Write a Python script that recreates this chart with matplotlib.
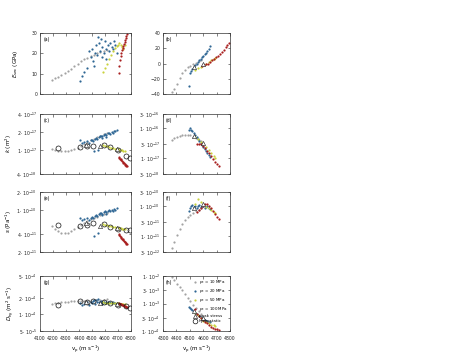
import matplotlib
matplotlib.use("Agg")
import matplotlib.pyplot as plt
from matplotlib.ticker import FixedLocator, NullLocator
from matplotlib.lines import Line2D

plt.rcParams['font.family'] = ['DejaVu Sans']
plt.rcParams['mathtext.fontset'] = 'dejavusans'

# ---------------- data: left column (x = vp, 4100-4800) ----------------
gray_xL = [4190, 4215, 4240, 4265, 4290, 4315, 4340, 4365, 4390, 4415, 4440, 4465, 4490, 4515, 4540, 4565, 4590, 4615]
blue_xL = [4410, 4420, 4440, 4460, 4475, 4490, 4500, 4510, 4520, 4530, 4540, 4550, 4560, 4570, 4580,
           4590, 4600, 4610, 4620, 4630, 4640, 4650, 4660, 4670, 4680, 4690, 4515, 4545, 4575, 4605]
yell_xL = [4585, 4600, 4615, 4630, 4645, 4660, 4675, 4690, 4700, 4710, 4720, 4730, 4740, 4750]
red_xL = [4705, 4710, 4715, 4720, 4725, 4730, 4735, 4740, 4745, 4750, 4755, 4760, 4765, 4770]
hydro_xL = [4240, 4410, 4460, 4510, 4590, 4640, 4700, 4760, 4790]
peak_xL = [4450, 4560, 4690]

# (a) E_sec
a_gray = [7.0, 7.8, 8.6, 9.5, 10.5, 11.5, 12.5, 13.6, 14.8, 16.0, 17.0, 17.8, 18.5, 19.2, 20.0, 20.5, 21.0, 21.5]
a_blue = [6.5, 9.0, 11.0, 13.0, 21.0, 18.0, 22.0, 16.0, 20.0, 24.0, 19.0, 25.0, 21.0, 27.0, 23.0,
          20.0, 26.0, 22.0, 24.0, 21.0, 25.0, 23.0, 22.0, 26.0, 24.0, 20.0, 14.0, 28.0, 18.0, 17.0]
a_yell = [11.0, 13.0, 15.0, 17.0, 19.0, 21.0, 22.5, 23.5, 24.0, 25.0, 24.0, 23.0, 22.0, 24.0]
a_red = [10.5, 14.0, 16.5, 18.5, 20.0, 21.5, 22.5, 23.5, 24.5, 25.5, 26.5, 27.5, 28.5, 29.5]

# (c) k
c_gray = [1.03e-17, 1.0e-17, 9.8e-18, 9.6e-18, 9.5e-18, 9.7e-18, 1.0e-17, 1.05e-17, 1.1e-17, 1.17e-17,
          1.25e-17, 1.35e-17, 1.45e-17, 1.55e-17, 1.65e-17, 1.75e-17, 1.85e-17, 1.95e-17]
c_blue = [1.45e-17, 1.3e-17, 1.35e-17, 1.4e-17, 1.3e-17, 1.45e-17, 1.5e-17, 1.4e-17, 1.55e-17, 1.6e-17,
          1.55e-17, 1.65e-17, 1.7e-17, 1.75e-17, 1.7e-17, 1.8e-17, 1.85e-17, 1.8e-17, 1.9e-17, 1.95e-17,
          1.85e-17, 2.0e-17, 1.95e-17, 2.1e-17, 2.05e-17, 2.2e-17, 9.5e-18, 1.0e-17, 1.6e-17, 1.65e-17]
c_yell = [1.2e-17, 1.18e-17, 1.15e-17, 1.12e-17, 1.1e-17, 1.08e-17, 1.06e-17, 1.04e-17, 1.03e-17,
          1.02e-17, 1.0e-17, 9.9e-18, 9.8e-18, 9.7e-18]
c_red = [7.8e-18, 7.5e-18, 7.2e-18, 7.0e-18, 6.8e-18, 6.6e-18, 6.4e-18, 6.2e-18, 6.0e-18, 5.9e-18,
         5.7e-18, 5.6e-18, 5.5e-18, 5.4e-18]
c_hydro = [1.1e-17, 1.12e-17, 1.18e-17, 1.17e-17, 1.2e-17, 1.12e-17, 1.0e-17, 8.0e-18, 7.5e-18]
c_peak = [1.2e-17, 1.15e-17, 1.05e-17]

# (e) s
e_gray = [5.4e-11, 4.8e-11, 4.4e-11, 4.2e-11, 4.1e-11, 4.2e-11, 4.5e-11, 4.9e-11, 5.3e-11, 5.7e-11,
          6.1e-11, 6.5e-11, 7.0e-11, 7.4e-11, 7.8e-11, 8.2e-11, 8.6e-11, 9.0e-11]
e_blue = [7.5e-11, 6.8e-11, 7.0e-11, 7.3e-11, 6.9e-11, 7.5e-11, 7.8e-11, 7.4e-11, 8.0e-11, 8.3e-11,
          8.0e-11, 8.5e-11, 8.8e-11, 9.0e-11, 8.7e-11, 9.2e-11, 9.5e-11, 9.2e-11, 9.7e-11, 1.0e-10,
          9.5e-11, 1.02e-10, 9.8e-11, 1.05e-10, 1.0e-10, 1.08e-10, 3.7e-11, 4.2e-11, 8.2e-11, 8.6e-11]
e_yell = [5.8e-11, 5.7e-11, 5.6e-11, 5.5e-11, 5.4e-11, 5.3e-11, 5.2e-11, 5.1e-11, 5.05e-11,
          5.0e-11, 4.95e-11, 4.9e-11, 4.85e-11, 4.8e-11]
e_red = [4.0e-11, 3.8e-11, 3.7e-11, 3.55e-11, 3.45e-11, 3.35e-11, 3.25e-11, 3.15e-11, 3.05e-11,
         2.98e-11, 2.9e-11, 2.82e-11, 2.75e-11, 2.7e-11]
e_hydro = [5.6e-11, 5.5e-11, 5.6e-11, 6.0e-11, 5.8e-11, 5.2e-11, 4.8e-11, 4.6e-11, 4.7e-11]
e_peak = [6.0e-11, 5.5e-11, 5.0e-11]

# (g) D_hy
g_gray = [1.55e-4, 1.6e-4, 1.63e-4, 1.66e-4, 1.68e-4, 1.7e-4, 1.72e-4, 1.74e-4, 1.76e-4, 1.77e-4,
          1.78e-4, 1.78e-4, 1.79e-4, 1.8e-4, 1.8e-4, 1.82e-4, 1.85e-4, 1.9e-4]
g_blue = [1.6e-4, 1.5e-4, 1.55e-4, 1.65e-4, 1.5e-4, 1.7e-4, 1.6e-4, 1.75e-4, 1.55e-4, 1.8e-4,
          1.65e-4, 1.7e-4, 1.6e-4, 1.75e-4, 1.65e-4, 1.7e-4, 1.6e-4, 1.65e-4, 1.7e-4, 1.62e-4,
          1.68e-4, 1.6e-4, 1.65e-4, 1.62e-4, 1.6e-4, 1.58e-4, 1.85e-4, 1.9e-4, 1.55e-4, 1.6e-4]
g_yell = [1.65e-4, 1.64e-4, 1.63e-4, 1.62e-4, 1.62e-4, 1.61e-4, 1.6e-4, 1.6e-4, 1.59e-4, 1.58e-4,
          1.57e-4, 1.56e-4, 1.55e-4, 1.54e-4]
g_red = [1.6e-4, 1.58e-4, 1.56e-4, 1.54e-4, 1.52e-4, 1.5e-4, 1.48e-4, 1.46e-4, 1.44e-4, 1.42e-4,
         1.4e-4, 1.38e-4, 1.36e-4, 1.35e-4]
g_hydro = [1.5e-4, 1.75e-4, 1.7e-4, 1.75e-4, 1.7e-4, 1.6e-4, 1.5e-4, 1.4e-4, 1.3e-4]
g_peak = [1.65e-4, 1.6e-4, 1.55e-4]

# ---------------- data: right column (x = vp, 4300-4800) ----------------
gray_xR = [4365, 4385, 4405, 4425, 4445, 4465, 4485, 4505, 4525, 4545, 4565, 4585]
blue_xR = [4500, 4510, 4520, 4530, 4540, 4550, 4560, 4570, 4580, 4590, 4600, 4610, 4620, 4630, 4640, 4650, 4495]
yell_xR = [4540, 4560, 4580, 4600, 4620, 4640, 4660, 4680, 4690]
red_xR = [4555, 4570, 4585, 4600, 4615, 4630, 4645, 4660, 4675, 4690, 4705, 4720]
red_xb = [4590, 4605, 4620, 4635, 4650, 4665, 4680, 4695, 4710, 4725, 4740, 4755, 4770, 4780, 4790]
peak_xR = [4530, 4600]

b_gray = [-37, -33, -27, -19, -12, -8, -5, -3, -1, 1, 3, 5]
b_blue = [-13, -10, -7, -4, -2, 0, 2, 4, 6, 8, 10, 12, 14, 16, 19, 23, -30]
b_yell = [-8, -6, -4, -2, 0, 2, 4, 6, 7]
b_red = [-3, -2, -1, 0, 2, 4, 6, 8, 10, 12, 15, 18, 21, 24, 27]
b_peak = [-5, 0]

d_gray = [4.2e-17, 4.6e-17, 5.0e-17, 5.4e-17, 5.8e-17, 6.0e-17, 6.1e-17, 5.8e-17, 5.2e-17, 4.6e-17, 4.2e-17, 3.9e-17]
d_blue = [1.0e-16, 9.0e-17, 8.0e-17, 7.0e-17, 6.0e-17, 5.2e-17, 4.5e-17, 3.9e-17, 3.3e-17, 2.8e-17,
          2.4e-17, 2.0e-17, 1.7e-17, 1.5e-17, 1.3e-17, 1.1e-17, 9.0e-17]
d_yell = [5.0e-17, 4.3e-17, 3.6e-17, 3.0e-17, 2.4e-17, 1.9e-17, 1.5e-17, 1.2e-17, 1.0e-17]
d_red = [2.9e-17, 3.0e-17, 2.9e-17, 2.6e-17, 2.2e-17, 1.8e-17, 1.5e-17, 1.2e-17, 9.5e-18, 7.8e-18, 6.5e-18, 5.5e-18]
d_peak = [5.5e-17, 3.2e-17]

f_gray = [4.0e-12, 6.5e-12, 1.1e-11, 1.8e-11, 2.6e-11, 3.5e-11, 4.3e-11, 5.2e-11, 6.0e-11, 7.0e-11, 7.8e-11, 8.5e-11]
f_blue = [9.0e-11, 1.0e-10, 1.1e-10, 9.5e-11, 1.05e-10, 9.0e-11, 1.0e-10, 1.1e-10, 9.5e-11, 1.0e-10,
          1.05e-10, 9.0e-11, 9.5e-11, 1.0e-10, 8.5e-11, 8.0e-11, 7.0e-11]
f_yell = [1.2e-10, 1.75e-10, 1.4e-10, 1.1e-10, 9.5e-11, 8.5e-11, 7.5e-11, 6.5e-11, 6.0e-11]
f_red = [6.5e-11, 7.5e-11, 8.5e-11, 1.0e-10, 1.15e-10, 1.2e-10, 1.05e-10, 8.5e-11, 7.0e-11, 5.5e-11, 4.5e-11, 3.7e-11]
f_peak = [9.0e-11, 1.15e-10]

h_gray = [9.0e-3, 7.0e-3, 5.3e-3, 4.0e-3, 3.0e-3, 2.2e-3, 1.6e-3, 1.2e-3, 9.0e-4, 7.0e-4, 5.3e-4, 4.0e-4]
h_blue = [7.0e-4, 6.3e-4, 5.6e-4, 5.0e-4, 4.5e-4, 4.0e-4, 3.7e-4, 3.4e-4, 3.1e-4, 2.9e-4,
          2.7e-4, 2.5e-4, 2.4e-4, 2.3e-4, 2.2e-4, 2.1e-4, 7.5e-4]
h_yell = [4.5e-4, 3.8e-4, 3.0e-4, 2.4e-4, 2.1e-4, 1.9e-4, 1.7e-4, 1.6e-4, 1.55e-4]
h_red = [4.0e-4, 3.5e-4, 3.0e-4, 2.6e-4, 2.2e-4, 1.9e-4, 1.65e-4, 1.45e-4, 1.3e-4, 1.2e-4, 1.15e-4, 1.1e-4]
h_peak = [5.5e-4, 3.0e-4]

legend_labels = [r'$p_{\rm c}$ = 10 MPa', r'$p_{\rm c}$ = 20 MPa', r'$p_{\rm c}$ = 50 MPa',
                 r'$p_{\rm c}$ = 100 MPa', 'peak stress', 'hydrostatic']

# ---------------- styling ----------------
C_GRAY = '#a3a3a3'
C_BLUE = '#2e6694'
C_YELL = '#c9d23e'
C_RED = '#a81e1e'
MS = 1.6
FS_T = 3.3
FS_L = 4.0

W, H = 474, 356
fig = plt.figure(figsize=(W / 100, H / 100), dpi=100)


def add_ax(x0, x1, y0, y1):
    return fig.add_axes([x0 / W, 1 - y1 / H, (x1 - x0) / W, (y1 - y0) / H])


def style(ax, xlim, xticks, show_xlabels):
    ax.set_xlim(*xlim)
    ax.xaxis.set_major_locator(FixedLocator(xticks))
    ax.xaxis.set_minor_locator(NullLocator())
    ax.tick_params(which='both', direction='in', top=True, right=True, length=1.8, width=0.4,
                   labelsize=FS_T, pad=2, colors='#222222')
    ax.tick_params(axis='x', pad=3.5)
    if not show_xlabels:
        ax.set_xticklabels([])
    else:
        ax.set_xticklabels([str(t) for t in xticks])
        ax.set_xlabel(r'v$_{\rm p}$ (m s$^{-1}$)', fontsize=FS_L, labelpad=2)
    for s in ax.spines.values():
        s.set_linewidth(0.5)
        s.set_color('#333333')


def logy(ax, lo, hi, ticks, labels):
    ax.set_yscale('log')
    ax.set_ylim(lo, hi)
    ax.yaxis.set_major_locator(FixedLocator(ticks))
    ax.yaxis.set_minor_locator(NullLocator())
    ax.set_yticklabels(labels)


def series(ax, xg, yg, xb, yb, xy, yy, xr, yr):
    ax.plot(xg, yg, 'o', ms=MS, mfc=C_GRAY, mec='none', ls='none')
    ax.plot(xb, yb, 'o', ms=MS, mfc=C_BLUE, mec='none', ls='none')
    ax.plot(xy, yy, 'o', ms=MS, mfc=C_YELL, mec='none', ls='none')
    ax.plot(xr, yr, 'o', ms=MS, mfc=C_RED, mec='none', ls='none')


def extras(ax, xh, yh, xp, yp):
    if xh is not None:
        ax.plot(xh, yh, 'o', ms=3.6, mfc='none', mec='#111111', mew=0.5, ls='none', clip_on=True)
    ax.plot(xp, yp, '^', ms=3.0, mfc='white', mec='#111111', mew=0.4, ls='none')


def panel_label(ax, s):
    ax.text(0.04, 0.93, s, transform=ax.transAxes, fontsize=FS_T, va='top', ha='left')


LX = (40, 131)
RX = (163, 230)
rows = [(33, 94), (114, 174), (192, 252), (276, 331)]
xticksL = [4100, 4200, 4300, 4400, 4500, 4600, 4700, 4800]
xticksR = [4300, 4400, 4500, 4600, 4700, 4800]

def lab(m, e):
    return r'$%s\cdot10^{%d}$' % (m, e)

# (a)
ax = add_ax(LX[0], LX[1], *rows[0])
series(ax, gray_xL, a_gray, blue_xL, a_blue, yell_xL, a_yell, red_xL, a_red)
style(ax, (4100, 4800), xticksL, False)
ax.set_ylim(0, 30)
ax.set_yticks([0, 10, 20, 30])
ax.set_ylabel(r'$E_{\rm sec}$ (GPa)', fontsize=FS_L, labelpad=8)
panel_label(ax, '(a)')

# (b)
ax = add_ax(RX[0], RX[1], *rows[0])
series(ax, gray_xR, b_gray, blue_xR, b_blue, yell_xR, b_yell, red_xb, b_red)
extras(ax, None, None, peak_xR, b_peak)
style(ax, (4300, 4800), xticksR, False)
ax.set_ylim(-40, 40)
ax.set_yticks([-40, -20, 0, 20, 40])
panel_label(ax, '(b)')

# (c)
ax = add_ax(LX[0], LX[1], *rows[1])
series(ax, gray_xL, c_gray, blue_xL, c_blue, yell_xL, c_yell, red_xL, c_red)
extras(ax, hydro_xL, c_hydro, peak_xL, c_peak)
style(ax, (4100, 4800), xticksL, False)
logy(ax, 4e-18, 4e-17, [4e-18, 1e-17, 2e-17, 4e-17],
     [lab(4, -18), lab(1, -17), lab(2, -17), lab(4, -17)])
ax.set_ylabel(r'$k$ (m$^2$)', fontsize=FS_L, labelpad=2)
panel_label(ax, '(c)')

# (d)
ax = add_ax(RX[0], RX[1], *rows[1])
series(ax, gray_xR, d_gray, blue_xR, d_blue, yell_xR, d_yell, red_xR, d_red)
extras(ax, None, None, peak_xR, d_peak)
style(ax, (4300, 4800), xticksR, False)
logy(ax, 3e-18, 3e-16, [3e-18, 1e-17, 3e-17, 1e-16, 3e-16],
     [lab(3, -18), lab(1, -17), lab(3, -17), lab(1, -16), lab(3, -16)])
panel_label(ax, '(d)')

# (e)
ax = add_ax(LX[0], LX[1], *rows[2])
series(ax, gray_xL, e_gray, blue_xL, e_blue, yell_xL, e_yell, red_xL, e_red)
extras(ax, hydro_xL, e_hydro, peak_xL, e_peak)
style(ax, (4100, 4800), xticksL, False)
logy(ax, 2e-11, 2e-10, [2e-11, 4e-11, 1e-10, 2e-10],
     [lab(2, -11), lab(4, -11), lab(1, -10), lab(2, -10)])
ax.set_ylabel(r'$s$ (Pa$^{-1}$)', fontsize=FS_L, labelpad=2)
panel_label(ax, '(e)')

# (f)
ax = add_ax(RX[0], RX[1], *rows[2])
series(ax, gray_xR, f_gray, blue_xR, f_blue, yell_xR, f_yell, red_xR, f_red)
extras(ax, None, None, peak_xR, f_peak)
style(ax, (4300, 4800), xticksR, False)
logy(ax, 3e-12, 3e-10, [3e-12, 1e-11, 3e-11, 1e-10, 3e-10],
     [lab(3, -12), lab(1, -11), lab(3, -11), lab(1, -10), lab(3, -10)])
panel_label(ax, '(f)')

# (g)
ax = add_ax(LX[0], LX[1], *rows[3])
series(ax, gray_xL, g_gray, blue_xL, g_blue, yell_xL, g_yell, red_xL, g_red)
extras(ax, hydro_xL, g_hydro, peak_xL, g_peak)
style(ax, (4100, 4800), xticksL, True)
logy(ax, 5e-5, 5e-4, [5e-5, 1e-4, 2e-4, 5e-4],
     [lab(5, -5), lab(1, -4), lab(2, -4), lab(5, -4)])
ax.set_ylabel(r'$D_{\rm hy}$ (m$^2$ s$^{-1}$)', fontsize=FS_L, labelpad=2)
panel_label(ax, '(g)')

# (h)
ax = add_ax(RX[0], RX[1], *rows[3])
series(ax, gray_xR, h_gray, blue_xR, h_blue, yell_xR, h_yell, red_xR, h_red)
extras(ax, None, None, peak_xR, h_peak)
style(ax, (4300, 4800), xticksR, True)
logy(ax, 1e-4, 1e-2, [1e-4, 3e-4, 1e-3, 3e-3, 1e-2],
     [lab(1, -4), lab(3, -4), lab(1, -3), lab(3, -3), lab(1, -2)])
panel_label(ax, '(h)')

handles = [
    Line2D([], [], marker='o', ls='none', ms=MS, mfc=C_GRAY, mec='none'),
    Line2D([], [], marker='o', ls='none', ms=MS, mfc=C_BLUE, mec='none'),
    Line2D([], [], marker='o', ls='none', ms=MS, mfc=C_YELL, mec='none'),
    Line2D([], [], marker='o', ls='none', ms=MS, mfc=C_RED, mec='none'),
    Line2D([], [], marker='^', ls='none', ms=3.0, mfc='white', mec='#111111', mew=0.4),
    Line2D([], [], marker='o', ls='none', ms=3.4, mfc='none', mec='#111111', mew=0.5),
]
ax.legend(handles, legend_labels, loc='upper right', fontsize=2.9, frameon=False,
          handlelength=0.8, handletextpad=0.4, labelspacing=0.25, borderaxespad=0.4,
          borderpad=0.2)

fig.savefig('out.png', dpi=100)
